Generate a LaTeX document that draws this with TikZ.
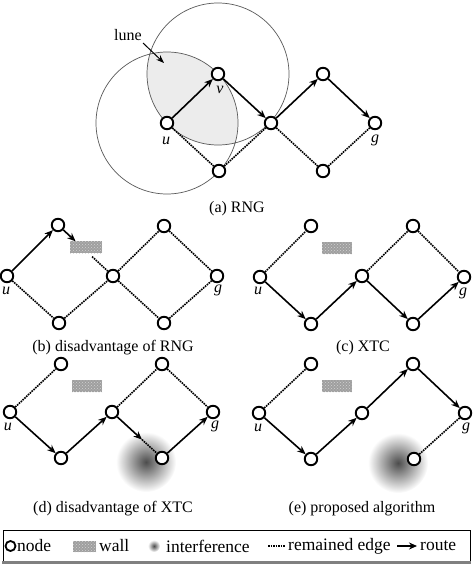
\documentclass[tikz,border=0pt]{standalone}
\usepackage{fontspec}
\setmainfont{Liberation Serif}
\usetikzlibrary{arrows.meta,patterns,calc}
\begin{document}
\begin{tikzpicture}[x=1pt,y=-1pt,
  nd/.style={circle,draw,line width=1.9pt,fill=white,minimum size=12.5pt,inner sep=0pt},
  route/.style={line width=1.6pt,-{Stealth[length=8.5pt,width=7pt]}},
  remain/.style={line width=1.6pt,dash pattern=on 1.6pt off 0.9pt},
  wallbox/.style={fill=gray!75,draw=none,postaction={pattern=crosshatch dots,pattern color=gray!35}},
  blob/.style={inner color=black!70,outer color=white},
  captxt/.style={font=\fontsize{16}{18}\selectfont},
  lab/.style={font=\fontsize{16}{18}\selectfont\itshape},
  leg/.style={font=\fontsize{17.5}{19}\selectfont,anchor=west,inner sep=0pt}]
\useasboundingbox (0,0) rectangle (474,564);

% ---------- (a) RNG ----------
\begin{scope}
  \clip (167,123) circle (71pt);
  \fill[gray!15] (218,74) circle (71pt);
\end{scope}
\draw[black!65,line width=0.7pt] (167,123) circle (71pt) (218,74) circle (71pt);
\node[nd] (a1) at (167,123) {};
\node[nd] (a2) at (218,74) {};
\node[nd] (a3) at (219,171) {};
\node[nd] (a4) at (271,123) {};
\node[nd] (a5) at (323,74) {};
\node[nd] (a6) at (323,171) {};
\node[nd] (a7) at (375,123) {};
\draw[route] (a1) -- (a2);
\draw[route] (a2) -- (a4);
\draw[route] (a4) -- (a5);
\draw[route] (a5) -- (a7);
\draw[remain] (a1) -- (a3);
\draw[remain] (a3) -- (a4);
\draw[remain] (a4) -- (a6);
\draw[remain] (a6) -- (a7);
\node[lab] (au) at (166,141) {u};
\node[lab] (av) at (220,90) {v};
\node[lab] (ag) at (375,140) {g};
\node[captxt] (lune) at (128,35) {lune};
\coordinate (lunetip) at (164,63);
\coordinate (lunestart) at (143,43);
\draw[line width=1pt,-{Stealth[length=8pt,width=6pt]}] (lunestart) -- (lunetip);
\node[captxt] (capa) at (237,209) {(a) RNG};

% ---------- (b) ----------
\node[nd] (b1) at (7,276) {};
\node[nd] (b2) at (58,225) {};
\node[nd] (b3) at (59,323) {};
\node[nd] (b4) at (113,276) {};
\node[nd] (b5) at (164,226) {};
\node[nd] (b6) at (164,323) {};
\node[nd] (b7) at (217,276) {};
\coordinate (bw1) at ($(b2)!0.32!(b4)$);
\coordinate (bw2) at ($(b2)!0.62!(b4)$);
\draw[route] (b1) -- (b2);
\draw[route] (b2) -- (bw1);
\draw[remain] (bw2) -- (b4);
\draw[remain] (b1) -- (b3);
\draw[remain] (b3) -- (b4);
\draw[remain] (b4) -- (b5);
\draw[remain] (b5) -- (b7);
\draw[remain] (b4) -- (b6);
\draw[remain] (b6) -- (b7);
\fill[wallbox] (70,241) rectangle (102,253);
\node[lab] (bu) at (6,291) {u};
\node[lab] (bg) at (218,290) {g};
\node[captxt] (capb) at (113,348) {(b) disadvantage of RNG};

% ---------- (c) XTC ----------
\node[nd] (c1) at (260,277) {};
\node[nd] (c2) at (311,226) {};
\node[nd] (c3) at (311,324) {};
\node[nd] (c4) at (362,276) {};
\node[nd] (c5) at (413,226) {};
\node[nd] (c6) at (413,324) {};
\node[nd] (c7) at (464,277) {};
\draw[remain] (c1) -- (c2);
\draw[route] (c1) -- (c3);
\draw[route] (c3) -- (c4);
\draw[route] (c4) -- (c6);
\draw[route] (c6) -- (c7);
\draw[remain] (c4) -- (c5);
\draw[remain] (c5) -- (c7);
\fill[wallbox] (322,242) rectangle (352,254);
\node[lab] (cu) at (258,291) {u};
\node[lab] (cg) at (463,293) {g};
\node[captxt] (capc) at (363,348) {(c) XTC};

% ---------- (d) ----------
\shade[blob] (146,462) circle (30pt);
\node[nd] (d1) at (10,412) {};
\node[nd] (d2) at (61,364) {};
\node[nd] (d3) at (61,458) {};
\node[nd] (d4) at (112,412) {};
\node[nd] (d5) at (162,364) {};
\node[nd] (d6) at (162,458) {};
\node[nd] (d7) at (213,412) {};
\coordinate (dm) at ($(d4)!0.6!(d6)$);
\draw[remain] (d1) -- (d2);
\draw[route] (d1) -- (d3);
\draw[route] (d3) -- (d4);
\draw[route] (d4) -- (dm);
\draw[remain] (dm) -- (d6);
\draw[route] (d6) -- (d7);
\draw[remain] (d4) -- (d5);
\draw[remain] (d5) -- (d7);
\fill[wallbox] (72,380) rectangle (102,392);
\node[lab] (du) at (8,427) {u};
\node[lab] (dg) at (215,426) {g};
\node[captxt] (capd) at (113,509) {(d) disadvantage of XTC};

% ---------- (e) ----------
\shade[blob] (398,463) circle (30pt);
\node[nd] (e1) at (259,413) {};
\node[nd] (e2) at (311,364) {};
\node[nd] (e3) at (311,459) {};
\node[nd] (e4) at (362,413) {};
\node[nd] (e5) at (413,364) {};
\node[nd] (e6) at (414,459) {};
\node[nd] (e7) at (465,413) {};
\draw[remain] (e1) -- (e2);
\draw[route] (e1) -- (e3);
\draw[route] (e3) -- (e4);
\draw[route] (e4) -- (e5);
\draw[route] (e5) -- (e7);
\draw[remain] (e6) -- (e7);
\fill[wallbox] (322,380) rectangle (352,392);
\node[lab] (eu) at (258,428) {u};
\node[lab] (eg) at (466,428) {g};
\node[captxt] (cape) at (362,509) {(e) proposed algorithm};

% ---------- legend ----------
\draw[line width=0.8pt] (3,563) -- (3,530) -- (470,530) -- (470,563);
\draw[gray,line width=2.5pt] (2,562.5) -- (471,562.5);
\node[circle,draw,line width=1.8pt,minimum size=10pt,inner sep=0pt] (ln) at (10.5,546) {};
\node[leg] (lnt) at (17,546) {node};
\fill[wallbox] (73,541) rectangle (96,552);
\node[leg] (lwt) at (99,546) {wall};
\shade[blob] (154,546) circle (6pt);
\node[leg] (lit) at (166,546) {interference};
\coordinate (lr1) at (268,546);
\coordinate (lr2) at (285,546);
\draw[remain] (lr1) -- (lr2);
\node[leg] (lrt) at (288,546) {remained edge};
\coordinate (la1) at (397,546);
\coordinate (la2) at (417,546);
\draw[line width=1.6pt,-{Stealth[length=8pt,width=7pt]}] (la1) -- (la2);
\node[leg] (lat) at (420,546) {route};
\end{tikzpicture}
\end{document}
